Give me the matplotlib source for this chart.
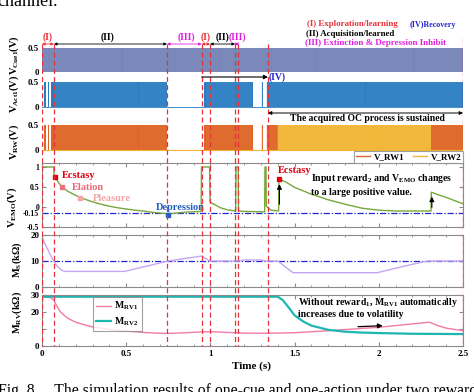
import numpy as np
import matplotlib
matplotlib.use('Agg')
import matplotlib.pyplot as plt
from matplotlib.ticker import MultipleLocator

W, H = 474, 392
plt.rcParams['font.family'] = ['Liberation Serif', 'DejaVu Serif']
plt.rcParams['font.weight'] = 'bold'
plt.rcParams['mathtext.fontset'] = 'custom'
plt.rcParams['mathtext.rm'] = 'Liberation Serif:bold'
plt.rcParams['mathtext.it'] = 'Liberation Serif:bold:italic'
plt.rcParams['mathtext.bf'] = 'Liberation Serif:bold'
plt.rcParams['font.size'] = 7

# ---------------- data ----------------
phase_bounds = [0.0, 0.071, 0.742, 0.948, 0.998, 1.146, 1.165, 1.342, 2.5]
phase_labels = ['(I)', '(II)', '(III)', '(I)', '(II)', '(III)']
phase_label_t = [0.036, 0.39, 0.86, 0.97, 1.07, 1.16]

cue_segments = [(0.0, 2.5, 'dense')]
act_segments = [(0.0, 0.071, 'sparse'), (0.071, 0.742, 'dense'), (0.948, 0.975, 'sparse'),
                (0.975, 1.25, 'dense'), (1.305, 1.312, 'dense'), (1.335, 2.5, 'dense')]
rw1_segments = [(0.0, 0.071, 'sparse'), (0.071, 0.742, 'dense'), (0.948, 0.975, 'sparse'),
                (0.975, 1.25, 'dense'), (1.305, 1.312, 'dense'), (1.335, 1.40, 'dense'),
                (2.31, 2.5, 'dense')]
rw2_segments = [(1.40, 2.31, 'dense')]
pulse_high = 0.5

emo_t = [0.0, 0.001, 0.07, 0.072, 0.08, 0.10, 0.12, 0.15, 0.2, 0.25, 0.3, 0.35, 0.4, 0.45,
         0.5, 0.55, 0.6, 0.65, 0.7, 0.75, 0.8, 0.85, 0.9, 0.945, 0.947, 0.995, 0.998, 1.03,
         1.06, 1.1, 1.15, 1.152, 1.165, 1.167, 1.2, 1.3, 1.322, 1.324, 1.33, 1.332, 1.36,
         1.405, 1.407, 1.45, 1.5, 1.6, 1.7, 1.8, 1.9, 2.0, 2.1, 2.31, 2.312, 2.35, 2.4,
         2.45, 2.5]
emo_v = [-0.1, 1.0, 1.0, 0.78, 0.73, 0.60, 0.50, 0.40, 0.29, 0.20, 0.13, 0.07, 0.02, -0.02,
         -0.05, -0.08, -0.10, -0.13, -0.15, -0.17, -0.15, -0.13, -0.12, -0.11, 1.0, 1.0, 0.12, 0.05,
         -0.02, -0.07, -0.10, 1.0, 1.0, -0.10, -0.11, -0.12, -0.12, 1.0, 1.0, 0.02, -0.08,
         -0.10, 0.70, 0.62, 0.49, 0.32, 0.18, 0.07, -0.03, -0.08, -0.10, -0.10, 0.37, 0.31, 0.24,
         0.16, 0.08]
emo_ref = -0.15
emo_marks_t = [0.075, 0.12, 0.226, 0.75, 1.407]
emo_marks_v = [0.76, 0.50, 0.22, -0.19, 0.70]
emo_marks_c = ['#e00010', '#f07080', '#f4a6a6', '#1f5fc0', '#e00010']

ms_t = [0.0, 0.03, 0.06, 0.09, 0.12, 0.14, 0.49, 0.6, 0.75, 0.85, 0.95, 0.97, 1.0, 1.17,
        1.2, 1.3, 1.33, 1.40, 1.42, 1.49, 1.99, 2.15, 2.29, 2.5]
ms_v = [19.0, 15.0, 11.0, 8.0, 6.3, 6.0, 6.0, 7.7, 10.0, 11.0, 11.9, 11.0, 10.0, 10.0,
        10.4, 10.4, 10.0, 10.0, 9.0, 5.5, 5.5, 8.0, 10.0, 10.0]
ms_ref = 10

mrv1_t = [0.0, 0.05, 0.07, 0.09, 0.11, 0.15, 0.2, 0.25, 0.3, 0.4, 0.5, 0.6, 0.7, 0.75, 0.85,
          0.95, 1.0, 1.1, 1.2, 1.3, 1.4, 1.5, 1.7, 2.0, 2.3, 2.35, 2.4, 2.5]
mrv1_v = [29.0, 28.5, 27.0, 23.0, 20.0, 16.5, 14.0, 12.5, 11.2, 9.8, 8.8, 8.0, 7.5, 7.4, 7.8,
          8.3, 8.4, 8.0, 7.6, 7.5, 7.6, 7.8, 9.0, 11.0, 14.0, 12.0, 10.5, 9.0]
mrv2_t = [0.0, 1.40, 1.43, 1.47, 1.5, 1.55, 1.6, 1.7, 1.8, 1.9, 2.0, 2.2, 2.5]
mrv2_v = [29.0, 29.0, 27.0, 22.0, 18.0, 14.5, 12.0, 9.5, 8.4, 7.9, 7.6, 7.2, 7.0]

time_ticks = [0, 0.5, 1, 1.5, 2, 2.5]
time_tick_labels = ['0', '0.5', '1', '1.5', '2', '2.5']

# ---------------- colours ----------------
RED = '#e8323a'
MAG = '#e020e0'
BLUE = '#2424d0'
C_CUE, C_CUE_S = '#7482b6', '#9aa5cf'
C_ACT, C_ACT_S = '#2a7cc0', '#5ea6dc'
C_RW1, C_RW1_S = '#dc6426', '#ec8c52'
C_RW2, C_RW2_S = '#f2b431', '#f7cc66'
C_EMO = '#76a83a'
C_MS = '#c6a6f2'
C_RV1 = '#f27aa8'
C_RV2 = '#1fb5b0'
GRAY = '#8a8a8a'
TICK_FS = 6.5

fig = plt.figure(figsize=(W / 100, H / 100), dpi=100)


def px_axes(x0, yt, x1, yb):
    return fig.add_axes([x0 / W, 1 - yb / H, (x1 - x0) / W, (yb - yt) / H])


X0, X1 = 42, 463


def pulse_panel(ax, segs, col, scol):
    for s, e, kind in segs:
        ax.fill_between([s, e], 0, pulse_high, color=col, lw=0)
        if kind == 'dense':
            ax.vlines(np.arange(s + 0.004, e, 0.012), 0, pulse_high, colors=scol, lw=0.35, alpha=0.8)
        else:
            ax.vlines(np.arange(s + 0.008, e - 0.004, 0.02), 0, pulse_high, colors='white', lw=1.4)


def setup_pulse_ax(ax):
    ax.set_xlim(0, 2.5)
    ax.set_ylim(-0.1, 0.6)
    for sp in ax.spines.values():
        sp.set_visible(False)
    ax.set_xticks([])
    ax.set_yticks([0, 0.5])
    ax.set_yticklabels(['0', '0.5'])
    ax.tick_params(axis='y', length=0, pad=2, labelsize=TICK_FS)


ax1 = px_axes(X0, 43.2, X1, 76.8)
pulse_panel(ax1, cue_segments, C_CUE, C_CUE_S)
setup_pulse_ax(ax1)

ax2 = px_axes(X0, 77, X1, 112)
ax2.plot([0, 2.5], [0, 0], color=C_ACT, lw=0.6)
pulse_panel(ax2, act_segments, C_ACT, C_ACT_S)
setup_pulse_ax(ax2)

ax3 = px_axes(X0, 120, X1, 155)
ax3.plot([0, 2.5], [0, 0], color=C_RW2, lw=0.8)
pulse_panel(ax3, rw1_segments, C_RW1, C_RW1_S)
pulse_panel(ax3, rw2_segments, C_RW2, C_RW2_S)
setup_pulse_ax(ax3)


def setup_box(ax, ylim, yt, ylab):
    ax.set_xlim(0, 2.5)
    ax.set_ylim(*ylim)
    for sp in ax.spines.values():
        sp.set_color(GRAY)
        sp.set_linewidth(0.8)
    ax.xaxis.set_major_locator(MultipleLocator(0.5))
    ax.xaxis.set_minor_locator(MultipleLocator(0.1))
    ax.set_yticks(yt)
    ax.set_yticklabels(ylab)
    ax.tick_params(axis='both', which='both', direction='in', top=True, right=True,
                   colors=GRAY, labelcolor='black', labelsize=TICK_FS, pad=2)
    ax.tick_params(which='major', length=3)
    ax.tick_params(which='minor', length=1.5)
    ax.tick_params(axis='x', labelbottom=False)


ax4 = px_axes(X0, 163, X1, 227)
ax4.axhline(emo_ref, color=BLUE, lw=0.9, ls=(0, (5, 1.5, 1, 1.5)))
ax4.plot(emo_t, emo_v, color=C_EMO, lw=1.0)
for t, v, c in zip(emo_marks_t, emo_marks_v, emo_marks_c):
    ax4.plot(t, v, 's', color=c, ms=3)
setup_box(ax4, (-0.5, 1.1), [1, 0.5, 0, -0.15, -0.5], ['1', '0.5', '0', '-0.15', '-0.5'])
ax4.tick_params(axis='y', labelsize=5.6)
ax4.text(0.12, 0.80, 'Ecstasy', color='#e00010', fontsize=7.5, va='center')
ax4.text(0.18, 0.48, 'Elation', color='#ea6a78', fontsize=7.5, va='center')
ax4.text(0.30, 0.22, 'Pleasure', color='#f4a6a6', fontsize=7.5, va='center')
ax4.text(0.82, -0.0, 'Depression', color='#1f5fc0', fontsize=7.5, va='center', ha='center')
ax4.text(1.40, 0.92, 'Ecstasy', color='#e00010', fontsize=7.5, va='center')
ax4.text(1.60, 0.72, r'Input reward$_{2}$ and V$_{\mathrm{EMO}}$ changes', fontsize=7, va='center')
ax4.text(1.60, 0.37, 'to a large positive value.', fontsize=7, va='center')
ax4.annotate('', xy=(1.41, 0.64), xytext=(1.41, 0.0),
             arrowprops=dict(arrowstyle='-|>', color='black', lw=0.8, mutation_scale=7))
ax4.annotate('', xy=(2.315, 0.33), xytext=(2.315, -0.08),
             arrowprops=dict(arrowstyle='-|>', color='black', lw=0.8, mutation_scale=7))

ax5 = px_axes(X0, 235, X1, 287)
ax5.axhline(ms_ref, color=BLUE, lw=0.9, ls=(0, (5, 1.5, 1, 1.5)))
ax5.plot(ms_t, ms_v, color=C_MS, lw=1.0)
setup_box(ax5, (0, 20), [0, 10, 20], ['0', '10', '20'])

ax6 = px_axes(X0, 295, X1, 346)
l1, = ax6.plot(mrv1_t, mrv1_v, color=C_RV1, lw=1.0, label=r'M$_{\mathrm{RV1}}$')
l2, = ax6.plot(mrv2_t, mrv2_v, color=C_RV2, lw=1.6, label=r'M$_{\mathrm{RV2}}$')
setup_box(ax6, (0, 30), [0, 10, 20, 30], ['0', '', '20', '30'])
ax6.set_xticks(time_ticks)
ax6.set_xticklabels(time_tick_labels)
ax6.tick_params(axis='x', labelbottom=True, pad=3)
ax6.text(1.52, 25.5, r'Without reward$_{1}$, M$_{\mathrm{RV1}}$ automatically', fontsize=7, va='center')
ax6.text(1.52, 18.8, 'increases due to volatility', fontsize=7, va='center')
ax6.annotate('', xy=(2.04, 12.0), xytext=(1.86, 11.3),
             arrowprops=dict(arrowstyle='-|>', color='black', lw=0.9, mutation_scale=7))
leg6 = ax6.legend(handles=[l1, l2], loc='upper left',
                  bbox_to_anchor=((93 - X0) / (X1 - X0), 1 - (297 - 295) / 51),
                  fontsize=7, frameon=True, fancybox=False, edgecolor=GRAY,
                  handlelength=1.5, borderpad=0.3, labelspacing=0.35, handletextpad=0.4,
                  borderaxespad=0)
leg6.get_frame().set_linewidth(0.8)
fig.text(252 / W, 1 - 366 / H, 'Time (s)', fontsize=8, ha='center', va='center')

# y labels
ylabs = [(14, 55, r'V$_{\mathrm{Cue1}}$(V)'), (14, 94, r'V$_{\mathrm{Act1}}$(V)'),
         (14, 142, r'V$_{\mathrm{RW}}$(V)'), (12, 207, r'V$_{\mathrm{EMO}}$(V)'),
         (17, 260, r'M$_{\mathrm{S}}$(k$\Omega$)'), (17, 312, r'M$_{\mathrm{RV}}$(k$\Omega$)')]
for x, y, s in ylabs:
    fig.text(x / W, 1 - y / H, s, rotation=90, ha='center', va='center', fontsize=7.5)

# overlay for phase lines and annotations
ov = fig.add_axes([X0 / W, 0, (X1 - X0) / W, 1], zorder=10)
ov.set_xlim(0, 2.5)
ov.set_ylim(H, 0)
ov.axis('off')
ov.patch.set_alpha(0)
for b in phase_bounds:
    top = 38 if b == phase_bounds[-1] else 44
    ov.plot([b, b], [top, 346], color=RED, lw=0.9, ls=(0, (4, 2.5)))
pcols = [RED, 'black', MAG, RED, 'black', MAG]
for i in range(6):
    a, b = phase_bounds[i], phase_bounds[i + 1]
    ov.annotate('', xy=(b, 44), xytext=(a, 44),
                arrowprops=dict(arrowstyle='<|-|>', color=pcols[i], lw=0.6,
                                mutation_scale=4, shrinkA=0, shrinkB=0))
    ov.text(phase_label_t[i], 37, phase_labels[i], color=pcols[i], fontsize=7,
            ha='center', va='center')
ov.annotate('', xy=(phase_bounds[7], 77), xytext=(phase_bounds[3], 77),
            arrowprops=dict(arrowstyle='-|>', color='black', lw=0.8, mutation_scale=6,
                            shrinkA=0, shrinkB=0))
ov.text(phase_bounds[7] + 0.005, 77, '(IV)', color=BLUE, fontsize=7, va='center')
ov.annotate('', xy=(2.5, 113), xytext=(phase_bounds[7], 113),
            arrowprops=dict(arrowstyle='<|-|>', color='black', lw=0.7, mutation_scale=5,
                            shrinkA=0, shrinkB=0))
ov.text(1.93, 118, 'The acquired OC process is sustained', fontsize=6.9, ha='center', va='center')
PXS = (X1 - X0) / 2.5
ov.text((307 - X0) / PXS, 24, '(I) Exploration/learning', color=RED, fontsize=6.4, va='center')
ov.text((410 - X0) / PXS, 25, '(IV)Recovery', color=BLUE, fontsize=5.8, va='center')
ov.text((306 - X0) / PXS, 34, '(II) Acquisition/learned', color='black', fontsize=6.4, va='center')
ov.text((305 - X0) / PXS, 43, '(III) Extinction & Depression Inhibit', color=MAG, fontsize=6.5, va='center')

hr1, = ov.plot([], [], color=C_RW1, lw=1.0, label='V_RW1')
hr2, = ov.plot([], [], color=C_RW2, lw=1.0, label='V_RW2')
leg3 = ov.legend(handles=[hr1, hr2], loc='upper right', bbox_to_anchor=(1.0, 1 - 151 / H),
                 ncol=2, fontsize=6.5, frameon=True, fancybox=False, edgecolor=GRAY,
                 handlelength=1.6, borderpad=0.2, columnspacing=0.9, handletextpad=0.4,
                 borderaxespad=0)
leg3.get_frame().set_linewidth(0.8)

# caption fragments from the page
fig.text(-0.005, 1 - 6 / H, 'channel.', fontsize=13, fontweight='normal', va='baseline', ha='left')
fig.text(-0.005, 1 - 383 / H, 'Fig. 8.    The simulation results of one-cue and one-action under two reward',
         fontsize=11.3, fontweight='normal', va='top', ha='left')

fig.savefig('out.png', dpi=100)
